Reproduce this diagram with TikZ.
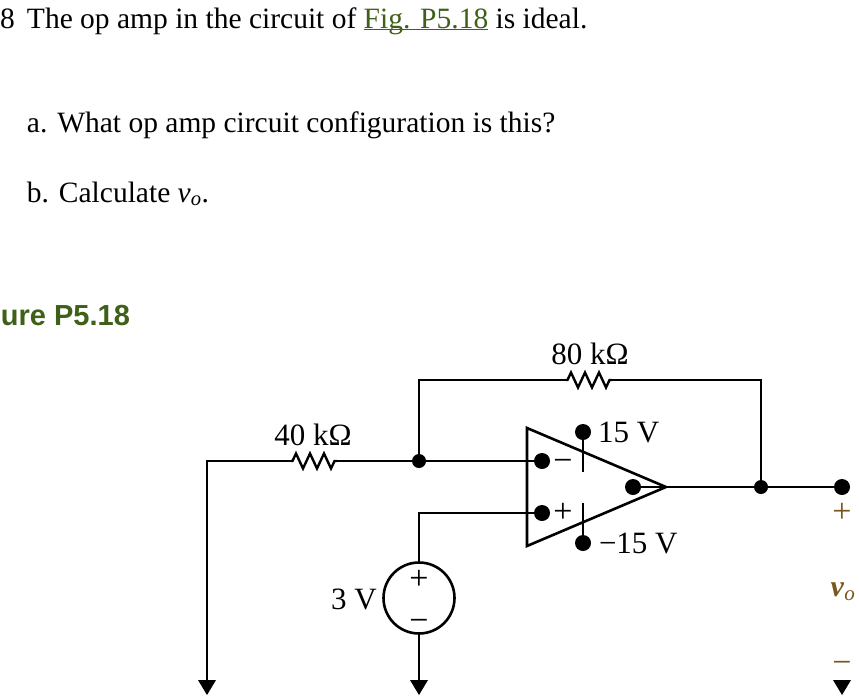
\documentclass[tikz,border=0pt]{standalone}
\usepackage{fontspec}
\setmainfont{Liberation Serif}
\setsansfont{Liberation Sans}
\usepackage{xcolor}
\usetikzlibrary{decorations.pathmorphing}
\definecolor{figgreen}{RGB}{62,96,24}
\definecolor{voltbrown}{RGB}{120,88,30}

\begin{document}
\begin{tikzpicture}[x=1pt, y=-1pt,
      every node/.style = {inner sep=0pt, outer sep=0pt},
      wire/.style = {draw, line width=2.4pt, line cap=round},
      thin wire/.style = {draw, line width=1.7pt},
      res/.style = {decorate, decoration={zigzag, segment length=14pt, amplitude=7.5pt, pre length=1.5pt, post length=1.5pt}},
      jct/.style = {circle, fill=black, minimum size=14pt},
      term/.style = {circle, fill=black, minimum size=16pt},
      body/.style = {anchor=base west, font=\fontsize{29.5}{36}\selectfont},
      val/.style = {font=\fontsize{31}{36}\selectfont},
      sign/.style = {anchor=base, font=\fontsize{34}{36}\selectfont}]
      \useasboundingbox (0,0) rectangle (859,699);
      \fill[white] (0,0) rectangle (859,699);

      % problem text
      \node[body] (num) at (0,28) {8};
      \node[body] (line1) at (27,28) {The op amp in the circuit of \textcolor{figgreen}{\underline{\smash{Fig. P5.18}}} is ideal.};
      \node[body] (parta) at (27,132) {a. What op amp circuit configuration is this?};
      \node[body] (partb) at (27,202) {b. Calculate \textit{v}$_{\mathit{o}}$.};
      \node[anchor=base west, font=\sffamily\bfseries\fontsize{29}{34}\selectfont, text=figgreen] (figlabel) at (1,325) {ure P5.18};

      % junctions and terminals
      \node[jct] (n1) at (419,461) {};
      \node[jct] (n2) at (761,487) {};
      \node[term] (out) at (842,487) {};
      \node[term] (inm) at (542,461) {};
      \node[term] (inp) at (542,513) {};
      \node[term] (opout) at (633,487) {};
      \node[term] (vcc) at (583,432) {};
      \node[term] (vee) at (583,543) {};
      \node[circle, draw, line width=2.6pt, minimum size=71pt] (src) at (419,598) {};

      \coordinate (tl) at (419,380);
      \coordinate (tr) at (761,380);
      \coordinate (r80a) at (566,380);
      \coordinate (r80b) at (612,380);
      \coordinate (r40a) at (291,461);
      \coordinate (r40b) at (337,461);
      \coordinate (left) at (207,461);
      \coordinate (corner) at (419,513);
      \coordinate (tip) at (666,487);
      \coordinate (vcct) at (583,472);
      \coordinate (veet) at (583,503);
      \coordinate (gnda) at (207,680);
      \coordinate (gndb) at (419,680);
      \coordinate (gndc) at (842,680);

      % op amp
      \draw[line width=2.6pt, line join=miter] (527,428) -- (tip) -- (527,546) -- cycle;

      % wiring
      \draw[wire] (n1) -- (tl) -- (r80a);
      \draw[wire, res] (r80a) -- (r80b);
      \draw[wire] (r80b) -- (tr) -- (n2);
      \draw[wire] (gnda) -- (left) -- (r40a);
      \draw[wire, res] (r40a) -- (r40b);
      \draw[wire] (r40b) -- (n1) -- (inm);
      \draw[wire] (src) -- (corner) -- (inp);
      \draw[wire] (src) -- (gndb);
      \draw[wire] (opout) -- (tip) -- (n2) -- (out);
      \draw[thin wire] (vcc) -- (vcct);
      \draw[thin wire] (vee) -- (veet);

      % ground arrows
      \foreach \g in {gnda,gndb,gndc}
        \fill (\g) ++(-9,0) -- ++(18,0) -- ++(-9,15) -- cycle;

      % labels
      \node[val] (l80) at (590,354) {80 kΩ};
      \node[val] (l40) at (313,435) {40 kΩ};
      \node[val] (l3) at (354,599) {3 V};
      \node[val, anchor=west] (l15) at (598,432) {15 V};
      \node[val, anchor=west] (lm15) at (599,543) {−15 V};
      \node[sign] (srcp) at (419,589) {+};
      \node[sign] (srcm) at (419,631) {−};
      \node[sign] (ampm) at (563,471) {−};
      \node[sign] (ampp) at (563,522) {+};
      \node[sign, text=voltbrown] (op) at (842,522) {+};
      \node[sign, text=voltbrown] (om) at (842,673) {−};
      \node[font=\fontsize{30}{36}\selectfont, text=voltbrown] (vo) at (843,592) {\textbf{\textit{v}}$_{\mathit{o}}$};
  \end{tikzpicture}
\end{document}
